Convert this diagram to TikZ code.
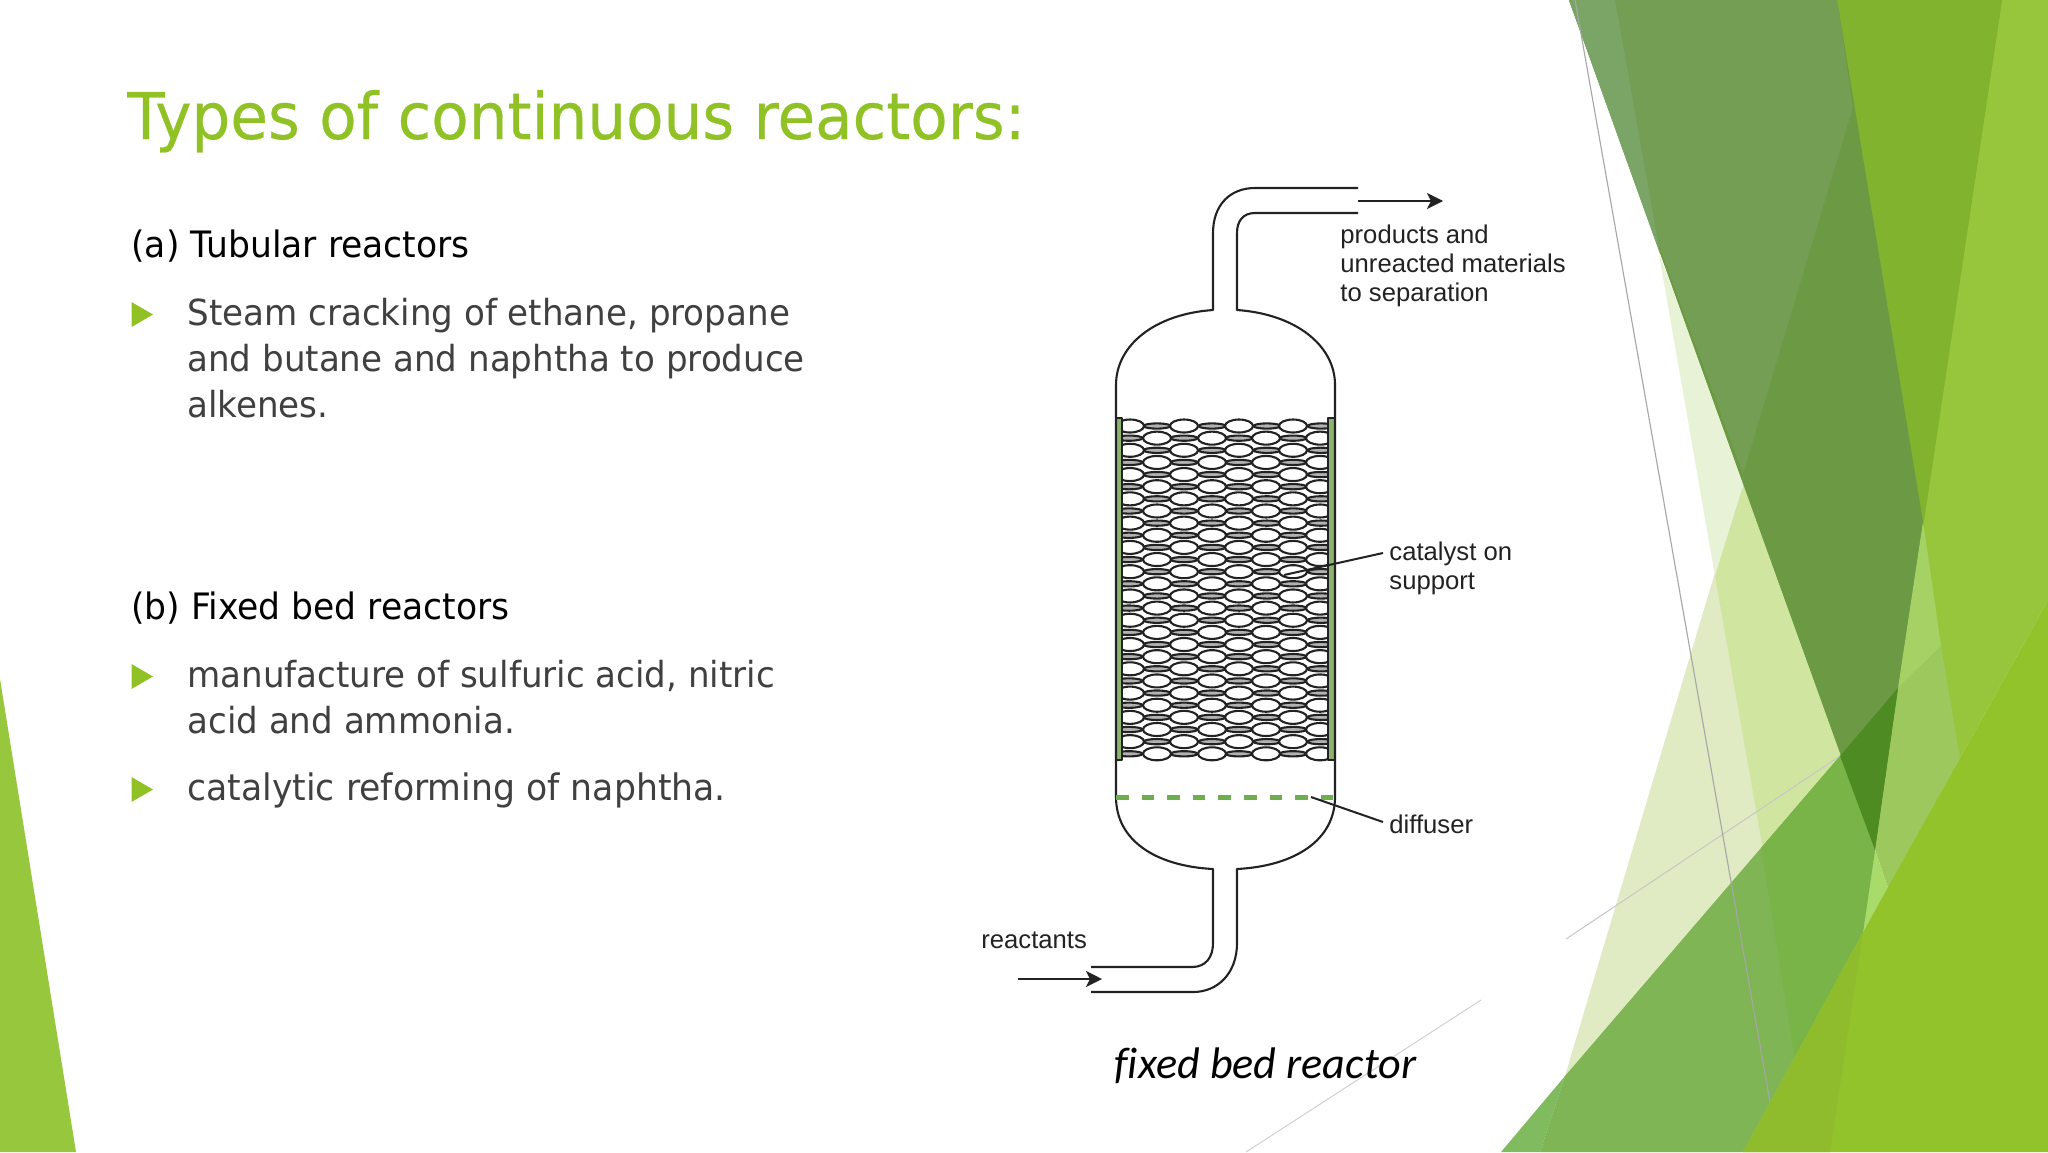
\documentclass[tikz,border=0pt]{standalone}
\usepackage{fontspec}
\usetikzlibrary{arrows.meta}
\setmainfont{DejaVu Sans}[FakeStretch=0.95]
\newfontfamily\titlefont{DejaVu Sans}[FakeStretch=0.95,FakeBold=0.35]
\newfontfamily\labelfont{Liberation Sans}
\newfontfamily\captionfont{Carlito}[Ligatures=NoCommon]
\definecolor{titlegreen}{HTML}{90C226}
\definecolor{bodygray}{HTML}{404040}
\definecolor{labelblack}{HTML}{222222}
\definecolor{stripgreen}{HTML}{8DB46E}
\definecolor{diffgreen}{HTML}{6FAE4E}
\tikzset{
  x=0.5pt,y=-0.5pt,
  titletext/.style={anchor=base west,inner sep=0,text=titlegreen,font=\titlefont\fontsize{32.2}{36}\selectfont},
  headtext/.style={anchor=base west,inner sep=0,text=black,font=\fontsize{18.18}{23}\selectfont},
  bodytext/.style={anchor=base west,inner sep=0,text=bodygray,align=left,font=\fontsize{17.95}{23}\selectfont},
  bulletmark/.style={fill=titlegreen,draw=none},
  partlabel/.style={anchor=base west,inner sep=0,text=labelblack,align=left,font=\labelfont\fontsize{12.83}{14.5}\selectfont},
  vessel/.style={draw=labelblack,line width=1.05pt,line join=round},
  flowarrow/.style={draw=labelblack,line width=1.05pt,-{Stealth[length=8pt,width=8pt,inset=2pt]}},
  leader/.style={draw=labelblack,line width=1pt},
  bigbead/.style={draw=labelblack,line width=1.05pt,fill=white},
  smallbead/.style={draw=labelblack,line width=1.05pt,fill=white!70!black},
}
\begin{document}
\begin{tikzpicture}
\path[use as bounding box,fill=white] (0,0) rectangle (2048,1152);

% --- background facets ---
\fill[fill={rgb,255:red,151;green,199;blue,61}] (0,679) -- (76,1152) -- (0,1152) -- cycle;
% pale facets
\fill[fill={rgb,255:red,224;green,235;blue,196}] (1741,485) -- (1565,1076) -- (1540,1152) -- (1800,1152) -- (1875,850) -- cycle;
\fill[fill={rgb,255:red,232;green,242;blue,214}] (1659,254) -- (1715,576) -- (1745,480) -- cycle;
\fill[fill={rgb,255:red,208;green,230;blue,160}] (1715,576) -- (1745,480) -- (1875,850) -- (1850,800) -- (1770,890) -- cycle;
% thin line under the dark facets
\draw[draw=black!22,line width=0.5pt] (1566,939) -- (1840,756);
% underlay for the right-hand facets
\fill[fill={rgb,255:red,130;green,179;blue,46}] (1569,0) -- (2048,0) -- (2048,600) -- (1875,850) -- cycle;
% right region
\fill[fill={rgb,255:red,151;green,198;blue,60}] (2002,0) -- (2048,0) -- (2048,600) -- (1960,758) -- (1875,850) -- cycle;
% bright wedge
\fill[fill={rgb,255:red,130;green,179;blue,46}] (1837,0) -- (2002,0) -- (1923,522) -- cycle;
% big dark
\fill[fill={rgb,255:red,107;green,153;blue,68}] (1569,0) -- (1837,0) -- (1923,522) -- (1875,850) -- cycle;
\fill[fill={rgb,255:red,117;green,158;blue,85}] (1569,0) -- (1837,0) -- (1853,107) -- (1743,474) -- cycle;
\fill[fill={rgb,255:red,123;green,165;blue,102}] (1569,0) -- (1615,0) -- (1660,254) -- cycle;
% light band
\fill[fill={rgb,255:red,165;green,209;blue,101}] (1923,522) -- (1931,576) -- (1941,646) -- (1898,688) -- cycle;
\fill[fill={rgb,255:red,156;green,200;blue,94}] (1898,688) -- (1941,646) -- (1960,758) -- (1888,888) -- (1875,850) -- cycle;
\fill[fill={rgb,255:red,168;green,219;blue,106}] (1875,850) -- (1888,888) -- (1863,932) -- cycle;
% mid green
\fill[fill={rgb,255:red,128;green,187;blue,96}] (1501,1152) -- (1565,1076) -- (1540,1152) -- cycle;
\fill[fill={rgb,255:red,128;green,181;blue,86}] (1540,1152) -- (1565,1076) -- (1840,756) -- (1875,850) -- (1863,932) -- (1743,1152) -- cycle;
\fill[fill={rgb,255:red,121;green,180;blue,73}] (1761,848) -- (1840,756) -- (1875,850) -- (1863,932) -- (1795,1060) -- cycle;
% dark overlap
\fill[fill={rgb,255:red,78;green,139;blue,35}] (1840,756) -- (1898,688) -- (1875,850) -- cycle;
% thin lines
\draw[draw=black!35,line width=0.55pt] (1575,0) -- (1770,1102);
\draw[draw=black!18,line width=0.5pt] (1481,1000) -- (1246,1152);
% front base
\fill[fill={rgb,255:red,147;green,195;blue,43}] (1743,1152) -- (1863,932) -- (1960,758) -- (2048,600) -- (2048,1152) -- cycle;
\fill[fill={rgb,255:red,142;green,188;blue,45}] (1743,1152) -- (1863,932) -- (1830,1152) -- cycle;

% --- text ---
\node[titletext] (title) at (127,139) {Types of continuous reactors:};
\node[headtext] (heada) at (131,257) {(a) Tubular reactors};
\node[bodytext] (bodya) at (187,417) {Steam cracking of ethane, propane\\and butane and naphtha to produce\\alkenes.};
\node[headtext] (headb) at (131,619) {(b) Fixed bed reactors};
\node[bodytext] (bodyb) at (187,733) {manufacture of sulfuric acid, nitric\\acid and ammonia.};
\node[bodytext,font=\fontsize{18.25}{23}\selectfont] (bodyc) at (187,800) {catalytic reforming of naphtha.};
\fill[bulletmark] (131.5,302) -- (153,314.5) -- (131.5,327) -- cycle;
\fill[bulletmark] (131.5,664) -- (153,676.5) -- (131.5,689) -- cycle;
\fill[bulletmark] (131.5,777) -- (153,789.5) -- (131.5,802) -- cycle;

% --- packing ---
\fill[stripgreen] (1116,418) rectangle (1122,760);
\fill[stripgreen] (1328,418) rectangle (1335,760);
\begin{scope}
\clip (1122,418) rectangle (1328,762);
\foreach \r in {0,...,27}{
  \pgfmathsetmacro{\yy}{426+12.14*\r}
  \pgfmathtruncatemacro{\odd}{mod(\r,2)}
  \ifnum\odd=0
    \foreach \x in {1157,1212,1267,1321}{\draw[smallbead] (\x,\yy) ellipse [x radius=13.5,y radius=2.6];}
    \foreach \x in {1130,1184,1239,1293}{\draw[bigbead] (\x,\yy) ellipse [x radius=14,y radius=6.5];}
  \else
    \foreach \x in {1129,1184,1239,1293}{\draw[smallbead] (\x,\yy) ellipse [x radius=13.5,y radius=2.6];}
    \foreach \x in {1157,1212,1266,1320}{\draw[bigbead] (\x,\yy) ellipse [x radius=14,y radius=6.5];}
  \fi
}
\end{scope}
\draw[vessel] (1116,418) -- (1122,418) -- (1122,760) -- (1116,760);
\draw[vessel] (1335,418) -- (1328,418) -- (1328,760) -- (1335,760);

% --- vessel ---
\coordinate (outtop) at (1358,188);
\coordinate (outbot) at (1358,213);
\coordinate (intop) at (1091,967);
\coordinate (inbot) at (1091,992);
\draw[vessel] (outtop) -- (1255,188) .. controls (1230,188) and (1213,205) .. (1213,233) -- (1213,310)
  .. controls (1155,314) and (1116,345) .. (1116,385) -- (1116,797)
  .. controls (1116,840) and (1155,866) .. (1213,869) -- (1213,943)
  .. controls (1213,957) and (1206,967) .. (1192,967) -- (intop);
\draw[vessel] (outbot) -- (1255,213) .. controls (1243,213) and (1237,221) .. (1237,233) -- (1237,310)
  .. controls (1295,314) and (1335,345) .. (1335,385) -- (1335,797)
  .. controls (1335,840) and (1295,866) .. (1237,869) -- (1237,943)
  .. controls (1237,973) and (1218,992) .. (1193,992) -- (inbot);
\draw[diffgreen,line width=2.5pt,dash pattern=on 6.3pt off 6.5pt] (1116,797) -- (1335,797);

% --- flows and labels ---
\coordinate (outfrom) at (1358,201);
\coordinate (outto) at (1443,201);
\coordinate (infrom) at (1018,979);
\coordinate (into) at (1102,979);
\draw[flowarrow] (outfrom) -- (outto);
\draw[flowarrow] (infrom) -- (into);
\node[partlabel] (products) at (1340,301) {products and\\unreacted materials\\to separation};
\node[partlabel] (catalyst) at (1389,589) {catalyst on\\support};
\node[partlabel] (diffuser) at (1389,833) {diffuser};
\node[partlabel] (reactants) at (981,948) {reactants};
\coordinate (catpt) at (1284,575);
\coordinate (catend) at (1383,553);
\coordinate (difpt) at (1311,797);
\coordinate (difend) at (1383,822);
\draw[leader] (catpt) -- (catend);
\draw[leader] (difpt) -- (difend);
\node[anchor=base west,inner sep=0,text=black,font=\captionfont\itshape\fontsize{22.1}{24}\selectfont] (caption) at (1114,1078) {fixed bed reactor};
\end{tikzpicture}
\end{document}
